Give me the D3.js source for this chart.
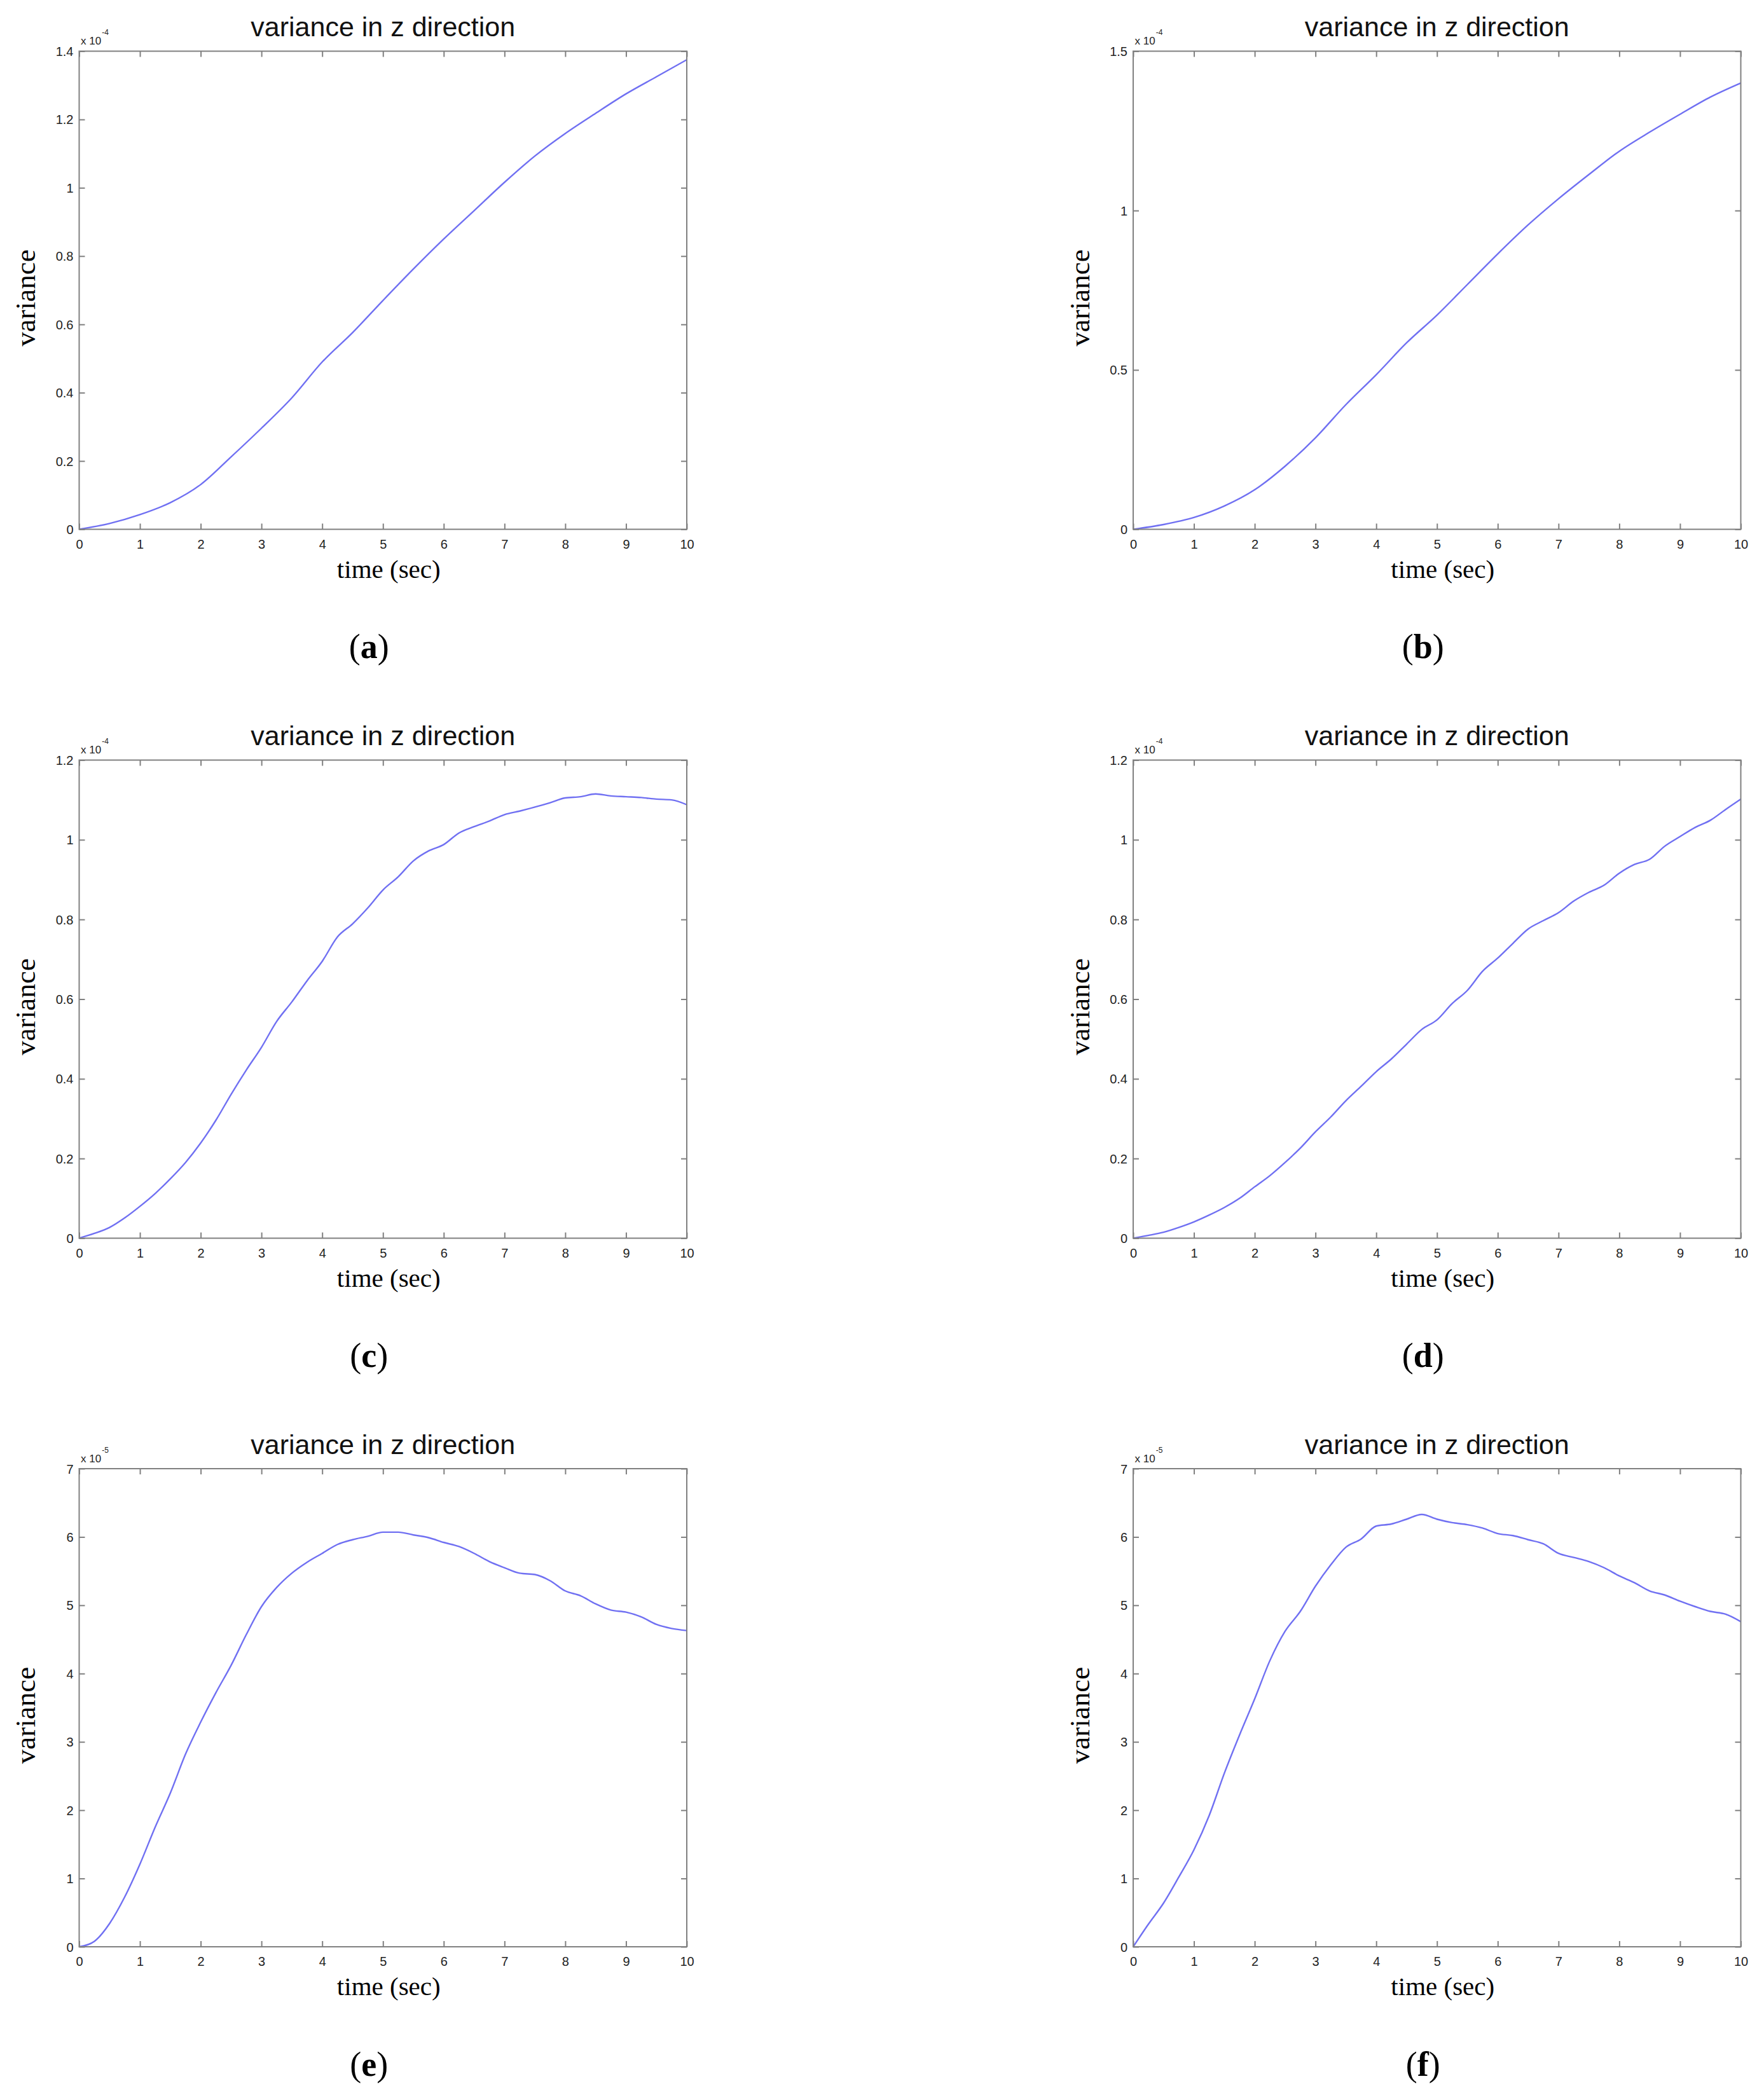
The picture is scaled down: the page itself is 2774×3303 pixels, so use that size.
<!DOCTYPE html>
<html>
<head>
<meta charset="utf-8">
<script src="https://cdn.jsdelivr.net/npm/d3@7"></script>
<style>body{margin:0;background:#fff}</style>
</head>
<body>
<svg id="fig" width="2774" height="3303"></svg>
<script>
// ---------------- data ----------------
const timeCoarse = [0,0.5,1,1.5,2,2.5,3,3.5,4,4.5,5,5.5,6,6.5,7,7.5,8,8.5,9,9.5,10];
const timeFine = [0,0.25,0.5,0.75,1,1.25,1.5,1.75,2,2.25,2.5,2.75,3,3.25,3.5,3.75,4,4.25,4.5,4.75,5,
                  5.25,5.5,5.75,6,6.25,6.5,6.75,7,7.25,7.5,7.75,8,8.25,8.5,8.75,9,9.25,9.5,9.75,10];
const xTicks = [0,1,2,3,4,5,6,7,8,9,10];

// values in axis units (x 10^-4 for a-d, x 10^-5 for e-f)
const varA = [0,0.017,0.043,0.078,0.131,0.212,0.296,0.385,0.49,0.576,0.67,0.762,0.85,0.933,1.016,1.093,1.159,1.218,1.275,1.325,1.375];
const varB = [0,0.015,0.037,0.073,0.124,0.198,0.287,0.391,0.485,0.585,0.672,0.768,0.864,0.955,1.037,1.113,1.186,1.246,1.302,1.356,1.40];
const varC = [0,0.012,0.027,0.051,0.080,0.112,0.149,0.19,0.239,0.296,0.361,0.422,0.479,0.544,0.593,0.646,0.695,0.756,0.789,0.829,0.874,
              0.907,0.947,0.972,0.988,1.017,1.033,1.047,1.063,1.072,1.082,1.093,1.105,1.108,1.115,1.110,1.108,1.106,1.102,1.100,1.088];
const varD = [0,0.007,0.015,0.027,0.041,0.058,0.077,0.10,0.129,0.157,0.19,0.226,0.267,0.304,0.345,0.381,0.418,0.45,0.487,0.524,0.548,
              0.589,0.622,0.67,0.703,0.74,0.776,0.797,0.817,0.846,0.868,0.886,0.916,0.938,0.951,0.984,1.008,1.031,1.049,1.076,1.102];
const varE = [0,0.08,0.34,0.73,1.21,1.75,2.25,2.82,3.29,3.72,4.12,4.57,4.98,5.26,5.47,5.63,5.76,5.89,5.96,6.01,6.07,
              6.07,6.03,5.99,5.92,5.86,5.76,5.64,5.55,5.47,5.45,5.36,5.21,5.14,5.02,4.93,4.90,4.83,4.72,4.66,4.63];
const varF = [0,0.33,0.64,1.02,1.42,1.92,2.54,3.10,3.63,4.19,4.62,4.91,5.28,5.59,5.85,5.97,6.16,6.19,6.26,6.33,6.26,
              6.21,6.18,6.13,6.05,6.02,5.96,5.90,5.76,5.70,5.64,5.55,5.43,5.33,5.21,5.15,5.06,4.98,4.91,4.87,4.76];

const yTicksA = [0,0.2,0.4,0.6,0.8,1,1.2,1.4];
const yTicksB = [0,0.5,1,1.5];
const yTicksCD = [0,0.2,0.4,0.6,0.8,1,1.2];
const yTicksEF = [0,1,2,3,4,5,6,7];

const exponents = [-4,-4,-4,-4,-5,-5];
const panelLetters = ["a","b","c","d","e","f"];
const titleText = "variance in z direction";
const xLabelText = "time (sec)";
const yLabelText = "variance";

// ---------------- layout ----------------
const W = 955.5, H = 752;
const colX = [124.5, 1782];
const rowY = [80.5, 1195.5, 2310];
const sans = "'Liberation Sans', Arial, Helvetica, sans-serif";
const serif = "'Liberation Serif', 'Times New Roman', serif";
const axisGray = "#808080";
const lineBlue = "#7070f2";

const panels = [
  {t: timeCoarse, v: varA, yt: yTicksA},
  {t: timeCoarse, v: varB, yt: yTicksB},
  {t: timeFine,   v: varC, yt: yTicksCD},
  {t: timeFine,   v: varD, yt: yTicksCD},
  {t: timeFine,   v: varE, yt: yTicksEF},
  {t: timeFine,   v: varF, yt: yTicksEF}
];

const svg = d3.select("#fig");
svg.append("rect").attr("width", 2774).attr("height", 3303).attr("fill", "#fff");

panels.forEach((p, i) => {
  const left = colX[i % 2], top = rowY[Math.floor(i / 2)];
  const g = svg.append("g").attr("transform", `translate(${left},${top})`);
  const x = d3.scaleLinear().domain([0, 10]).range([0, W]);
  const y = d3.scaleLinear().domain([0, d3.max(p.yt)]).range([H, 0]);

  const clipId = "clip" + i;
  g.append("clipPath").attr("id", clipId).append("rect").attr("width", W).attr("height", H);

  // curve
  g.append("path")
    .datum(d3.zip(p.t, p.v))
    .attr("clip-path", `url(#${clipId})`)
    .attr("fill", "none")
    .attr("stroke", lineBlue)
    .attr("stroke-width", 2.4)
    .attr("stroke-linejoin", "round")
    .attr("d", d3.line().curve(d3.curveMonotoneX).x(d => x(d[0])).y(d => y(d[1])));

  // axes with inward ticks
  const fmt = d3.format("~g");
  const styleAxis = (sel) => {
    sel.select(".domain").remove();
    sel.selectAll(".tick line").attr("stroke", axisGray).attr("stroke-width", 2);
    sel.selectAll(".tick text").attr("fill", "#222").style("font-family", sans).style("font-size", "20px");
  };
  const xb = g.append("g").attr("transform", `translate(0,${H})`)
    .call(d3.axisBottom(x).tickValues(xTicks).tickSize(-9).tickSizeOuter(0).tickFormat(fmt));
  styleAxis(xb);
  xb.selectAll(".tick text").attr("y", 30).attr("dy", 0);

  const xt = g.append("g")
    .call(d3.axisTop(x).tickValues(xTicks).tickSize(-9).tickSizeOuter(0).tickFormat(""));
  styleAxis(xt);

  const yl = g.append("g")
    .call(d3.axisLeft(y).tickValues(p.yt).tickSize(-9).tickSizeOuter(0).tickFormat(fmt));
  styleAxis(yl);
  yl.selectAll(".tick text").attr("x", -9).attr("dy", "0.35em");

  const yr = g.append("g").attr("transform", `translate(${W},0)`)
    .call(d3.axisRight(y).tickValues(p.yt).tickSize(-9).tickSizeOuter(0).tickFormat(""));
  styleAxis(yr);

  // box
  g.append("rect").attr("width", W).attr("height", H)
    .attr("fill", "none").attr("stroke", axisGray).attr("stroke-width", 2);

  // exponent label
  const ex = g.append("text").attr("x", 2.5).attr("y", -10.5)
    .style("font-family", sans).style("font-size", "17px").attr("fill", "#222");
  ex.append("tspan").text("x 10");
  ex.append("tspan").attr("dx", 1).attr("dy", -15).style("font-size", "12px").text(String(exponents[i]));

  // title
  g.append("text").attr("x", W / 2).attr("y", -23.5).attr("text-anchor", "middle")
    .style("font-family", sans).style("font-size", "43px").attr("fill", "#111")
    .text(titleText);

  // x label
  g.append("text").attr("x", W / 2 + 9).attr("y", H + 76).attr("text-anchor", "middle")
    .style("font-family", serif).style("font-size", "41px").attr("fill", "#000")
    .text(xLabelText);

  // y label
  g.append("text").attr("transform", `translate(-69.5,388) rotate(-90)`).attr("text-anchor", "middle")
    .style("font-family", serif).style("font-size", "45px").attr("fill", "#000")
    .text(yLabelText);

  // caption
  const cap = g.append("text").attr("x", W / 2 - 22).attr("y", 954.5).attr("text-anchor", "middle")
    .style("font-family", serif).style("font-size", "54px").attr("fill", "#000");
  cap.append("tspan").text("(");
  cap.append("tspan").style("font-weight", "bold").text(panelLetters[i]);
  cap.append("tspan").text(")");
});
</script>
</body>
</html>
